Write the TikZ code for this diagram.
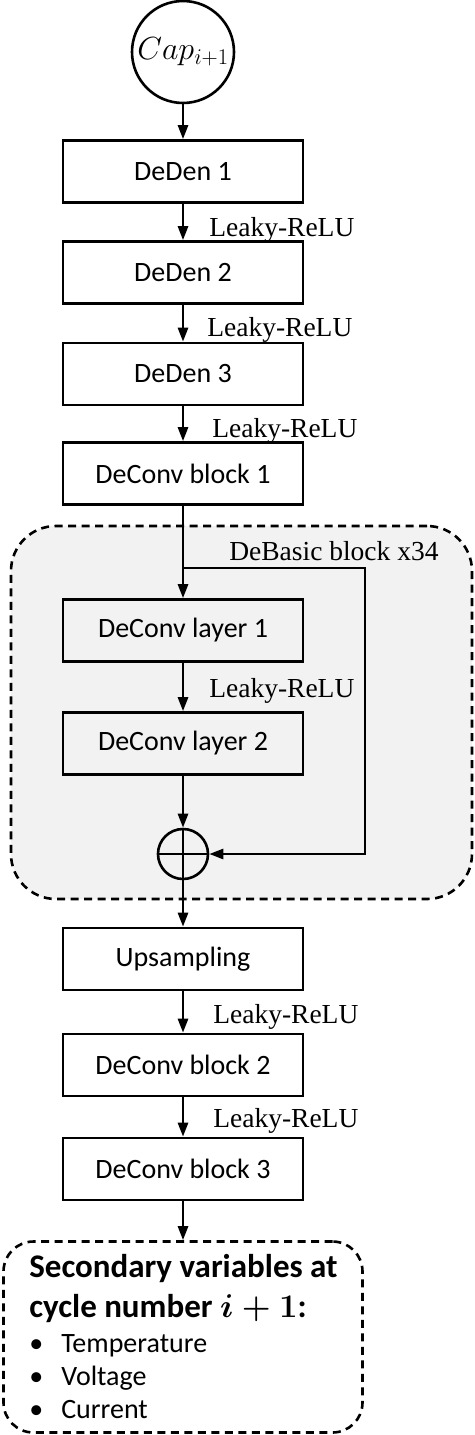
\RequirePackage{fix-cm}
\documentclass[tikz,border=0pt]{standalone}
\usepackage{amsmath,bm}
\usepackage{fontspec}
\setmainfont{Liberation Serif}
\newfontfamily\boxfont{Carlito}
\usetikzlibrary{arrows.meta}
\begin{document}
\begin{tikzpicture}[x=1pt,y=-1pt, line width=2.6pt,
  blk/.style={draw, line width=2.6pt, minimum width=240pt, minimum height=62pt, inner sep=0pt, font=\boxfont\fontsize{28}{32}\selectfont},
  act/.style={anchor=base west, inner sep=0pt, font=\fontsize{27.5}{32}\selectfont},
  arr/.style={-{Triangle[length=14pt,width=10pt]}, line width=2.6pt},
  dsh/.style={dash pattern=on 8pt off 5.5pt},
  itm/.style={anchor=base west, inner sep=0pt, font=\boxfont\fontsize{28}{32}\selectfont},
  hdr/.style={anchor=base west, inner sep=0pt, font=\boxfont\bfseries\fontsize{33}{40}\selectfont}]
\useasboundingbox (0,0) rectangle (474,1435);
% grey region
\node[draw, dsh, fill=black!5, rounded corners=45pt, minimum width=461pt, minimum height=373pt, inner sep=0pt] (region) at (241.5,712.5) {};
\node[act] (lbas) at (228,560) {DeBasic block x34};
% nodes
\node[circle, draw, minimum size=102pt, inner sep=0pt] (cap) at (183,52) {\fontsize{32}{38}\selectfont$Cap_{i+1}$};
\node[blk] (d1) at (183,171.5) {DeDen 1};
\node[blk] (d2) at (183,272.5) {DeDen 2};
\node[blk] (d3) at (183,374) {DeDen 3};
\node[blk] (cb1) at (183,473.5) {DeConv block 1};
\node[blk, fill=black!5] (cl1) at (183,630.5) {DeConv layer 1};
\node[blk, fill=black!5] (cl2) at (183,743.5) {DeConv layer 2};
\node[circle, draw, minimum size=50pt, inner sep=0pt] (plus) at (183,854) {};
\draw (plus.north) -- (plus.south) (plus.west) -- (plus.east);
\node[blk] (up) at (183,959) {Upsampling};
\node[blk] (cb2) at (183,1065) {DeConv block 2};
\node[blk] (cb3) at (183,1169) {DeConv block 3};
\node[draw, dsh, rounded corners=30pt, minimum width=359pt, minimum height=191pt, inner sep=0pt] (out) at (183,1337) {};
% activation labels
\node[act] (a1) at (208,236) {Leaky-ReLU};
\node[act] (a2) at (206,336) {Leaky-ReLU};
\node[act] (a3) at (211,437) {Leaky-ReLU};
\node[act] (a4) at (208,697) {Leaky-ReLU};
\node[act] (a5) at (212,1023) {Leaky-ReLU};
\node[act] (a6) at (212,1127) {Leaky-ReLU};
% output text
\node[hdr] (h1) at (28,1277) {Secondary variables at};
\node[hdr] (h2) at (28,1317) {cycle number {\mathversion{bold}$i+1$}:};
\node[itm] (bu1) at (28,1352) {\textbullet};
\node[itm] (bu2) at (28,1385) {\textbullet};
\node[itm] (bu3) at (28,1418) {\textbullet};
\node[itm] (i1) at (60,1352) {Temperature};
\node[itm] (i2) at (60,1385) {Voltage};
\node[itm] (i3) at (60,1418) {Current};
% connectors
\draw[arr] (cap) -- (d1);
\draw[arr] (d1) -- (d2);
\draw[arr] (d2) -- (d3);
\draw[arr] (d3) -- (cb1);
\draw[arr] (cb1) -- (cl1);
\coordinate (split) at (183,568);
\coordinate (c1) at (365,568);
\coordinate (c2) at (365,854);
\draw[arr] (split) -- (c1) -- (c2) -- (plus);
\draw[arr] (cl1) -- (cl2);
\draw[arr] (cl2) -- (plus);
\draw[arr] (plus) -- (up);
\draw[arr] (up) -- (cb2);
\draw[arr] (cb2) -- (cb3);
\draw[arr] (cb3) -- (out);
\end{tikzpicture}
\end{document}
